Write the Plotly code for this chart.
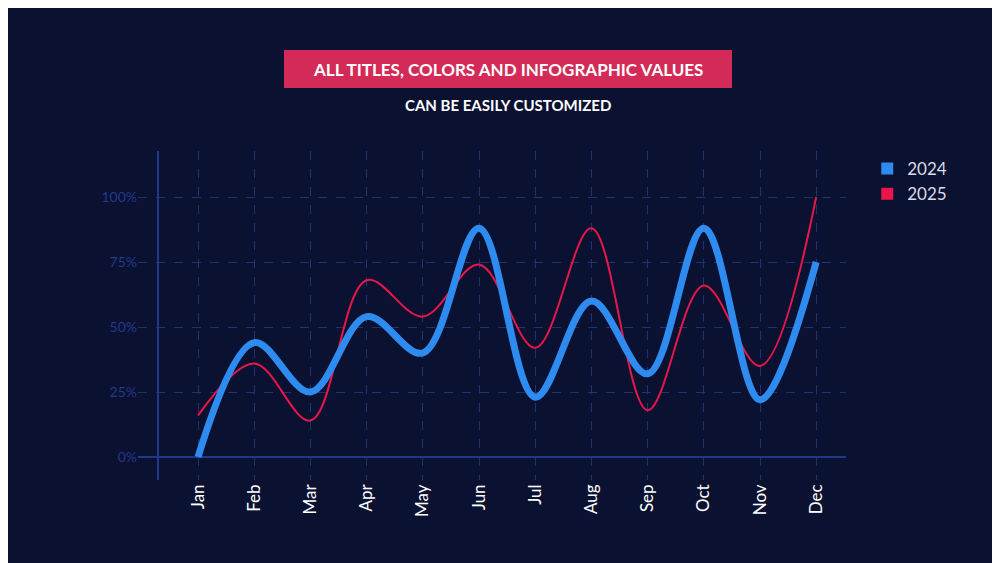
import plotly.graph_objects as go

months = ["Jan", "Feb", "Mar", "Apr", "May", "Jun", "Jul", "Aug", "Sep", "Oct", "Nov", "Dec"]
values_2024 = [0, 44, 25, 54, 40, 88, 23, 60, 32, 88, 22, 75]
values_2025 = [16, 36, 14, 68, 54, 74, 42, 88, 18, 66, 35, 100]
y_ticks = [0, 25, 50, 75, 100]
y_labels = ["0%", "25%", "50%", "75%", "100%"]

bg = "#0a1131"
blue = "#2e8cf0"
red = "#e8174a"
x = list(range(len(months)))

fig = go.Figure()
fig.add_trace(go.Scatter(x=x, y=values_2025, mode="lines", line=dict(color=red, width=2, shape="spline", smoothing=1.0), showlegend=False))
fig.add_trace(go.Scatter(x=x, y=values_2024, mode="lines", line=dict(color=blue, width=7, shape="spline", smoothing=1.0), showlegend=False))
# legend entries as squares
fig.add_trace(go.Scatter(x=[None], y=[None], mode="markers", name="2024", marker=dict(symbol="square", size=16, color=blue)))
fig.add_trace(go.Scatter(x=[None], y=[None], mode="markers", name="2025", marker=dict(symbol="square", size=16, color=red)))

fig.update_layout(
    width=1000, height=563,
    paper_bgcolor=bg, plot_bgcolor=bg,
    margin=dict(l=130, r=162, t=143, b=91),
    font=dict(family="Lato", color="white"),
    xaxis=dict(range=[-1.068, 11.53], tickvals=x, ticktext=months, tickangle=-90,
               showgrid=True, gridcolor="#1f3272", griddash="dash", gridwidth=1,
               tickfont=dict(size=17, color="white"), zeroline=False, ticks=""),
    yaxis=dict(range=[-8.85, 117.7], tickvals=y_ticks, ticktext=y_labels,
               showgrid=True, gridcolor="#1f3272", griddash="dash", gridwidth=1,
               zeroline=True, zerolinecolor="#1f3a8a", zerolinewidth=2,
               tickfont=dict(size=14, color="#24398a"), ticks=""),
    legend=dict(x=1.03, y=1.0, xanchor="left", yanchor="top", font=dict(size=17, color="#d8dbe8"),
                bgcolor="rgba(0,0,0,0)", itemsizing="constant"),
    shapes=[
        dict(type="line", xref="paper", yref="paper", x0=20 / 708, x1=20 / 708, y0=0, y1=1,
             line=dict(color="#1f3a8a", width=2)),
        dict(type="rect", xref="paper", yref="paper", layer="below",
             x0=(276 - 130) / 708, x1=(724 - 130) / 708,
             y0=(472 - 80) / 329, y1=(472 - 42) / 329,
             fillcolor="#d42a58", line=dict(width=0)),
    ],
    annotations=[
        dict(text="<b>ALL TITLES, COLORS AND INFOGRAPHIC VALUES</b>", xref="paper", yref="paper",
             x=(500 - 130) / 708, y=(472 - 61) / 329, xanchor="center", yanchor="middle",
             showarrow=False, font=dict(size=17, color="white")),
        dict(text="<b>CAN BE EASILY CUSTOMIZED</b>", xref="paper", yref="paper",
             x=(500 - 130) / 708, y=(472 - 97) / 329, xanchor="center", yanchor="middle",
             showarrow=False, font=dict(size=15, color="white")),
    ],
)

fig.write_html("out.html")
